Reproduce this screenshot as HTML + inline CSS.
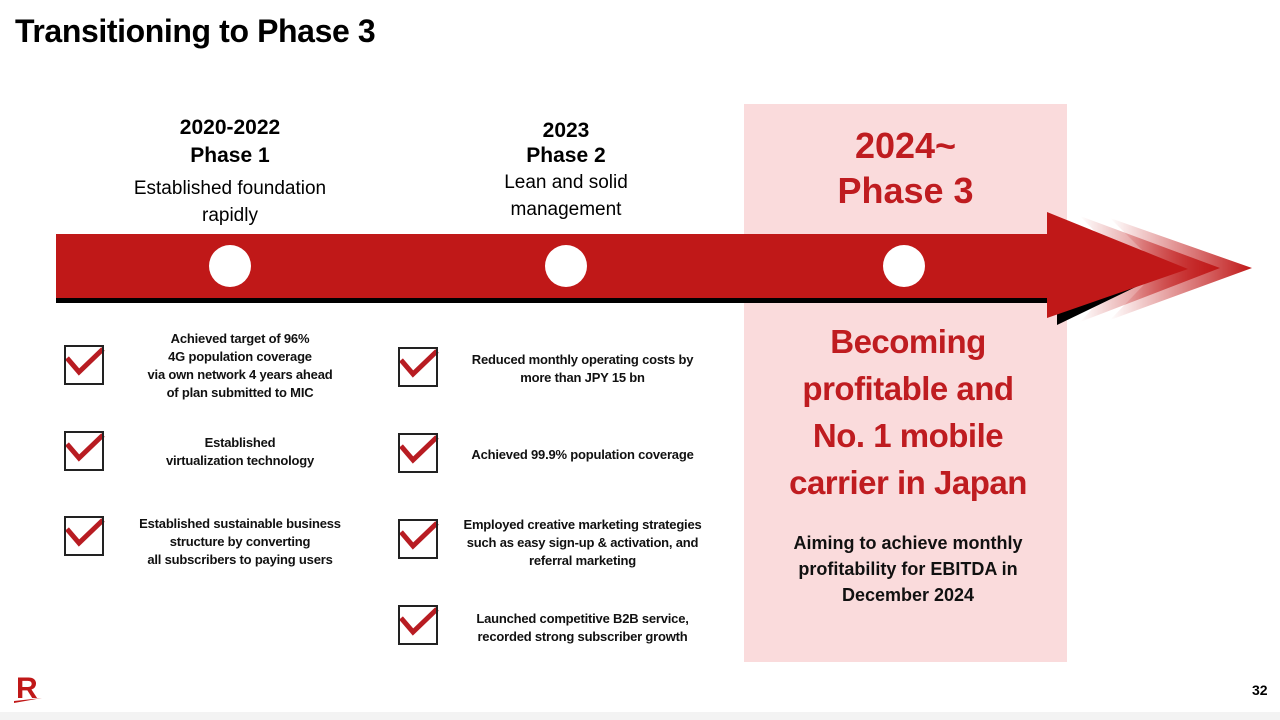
<!DOCTYPE html>
<html><head><style>
body{margin:0;width:1280px;height:720px;background:#fff;font-family:"Liberation Sans",sans-serif;overflow:hidden;position:relative}
.a{position:absolute;text-align:center}
.t{font-weight:bold;font-size:13px;line-height:18px;color:#111;letter-spacing:-0.2px}
.cb{position:absolute;width:40px;height:40px;border:2px solid #222;box-sizing:border-box}
</style></head><body>
<div class="a" style="left:15px;top:13px;font-size:32px;font-weight:bold;letter-spacing:-0.4px;text-align:left">Transitioning to Phase 3</div>
<div style="position:absolute;left:744px;top:104px;width:323px;height:558px;background:#fadbdc"></div>
<svg width="1280" height="720" style="position:absolute;left:0;top:0">
<defs>
<linearGradient id="f1" x1="0" x2="1"><stop offset="0" stop-color="#c01818" stop-opacity="0"/><stop offset="1" stop-color="#c01818"/></linearGradient>
</defs>
<polygon points="1110,218 1252,268 1110,320 1160,268" fill="url(#f1)"/>
<polygon points="1080,216 1220,268 1080,322 1130,268" fill="url(#f1)"/>
<rect x="56" y="296" width="1000" height="7" fill="#000"/>
<polygon points="1057,300 1175,268 1057,325" fill="#000"/>
<rect x="56" y="234" width="992" height="64" fill="#c01818"/>
<polygon points="1047,212 1188,269 1047,318" fill="#c01818"/>
<circle cx="230" cy="266" r="21" fill="#fff"/>
<circle cx="566" cy="266" r="21" fill="#fff"/>
<circle cx="904" cy="266" r="21" fill="#fff"/>
<g fill="none" stroke="#b81c22" stroke-width="5">
<polyline points="67,358 79,372 103,349"/><polyline points="67,444 79,458 103,435"/><polyline points="67,529 79,543 103,520"/>
<polyline points="401,360 413,374 437,351"/><polyline points="401,446 413,460 437,437"/><polyline points="401,532 413,546 437,523"/><polyline points="401,618 413,632 437,609"/>
</g>
<text x="16" y="698" font-size="30" font-weight="bold" fill="#c01818" font-family="Liberation Sans">R</text>
<path d="M14 701 L42 698 L14 703Z" fill="#c01818"/>
</svg>
<div class="cb" style="left:64px;top:345px"></div><div class="cb" style="left:64px;top:431px"></div><div class="cb" style="left:64px;top:516px"></div>
<div class="cb" style="left:398px;top:347px"></div><div class="cb" style="left:398px;top:433px"></div><div class="cb" style="left:398px;top:519px"></div><div class="cb" style="left:398px;top:605px"></div>

<div class="a" style="left:110px;width:240px;top:114px;font-size:21px;font-weight:bold;line-height:28px">2020-2022<br>Phase 1</div>
<div class="a" style="left:110px;width:240px;top:175px;font-size:19px;line-height:27px">Established foundation<br>rapidly</div>
<div class="a" style="left:446px;width:240px;top:117px;font-size:21px;font-weight:bold;line-height:28px">2023</div>
<div class="a" style="left:446px;width:240px;top:142px;font-size:21px;font-weight:bold;line-height:28px">Phase 2</div>
<div class="a" style="left:446px;width:240px;top:169px;font-size:19px;line-height:27px">Lean and solid<br>management</div>
<div class="a" style="left:744px;width:323px;top:123px;font-size:36px;font-weight:bold;line-height:45px;color:#bf1c20">2024~<br>Phase 3</div>

<div class="a t" style="left:120px;width:240px;top:330px">Achieved target of 96%<br>4G population coverage<br>via own network 4 years ahead<br>of plan submitted to MIC</div>
<div class="a t" style="left:120px;width:240px;top:434px">Established<br>virtualization technology</div>
<div class="a t" style="left:110px;width:260px;top:515px">Established sustainable business<br>structure by converting<br>all subscribers to paying users</div>
<div class="a t" style="left:450px;width:265px;top:351px">Reduced monthly operating costs by<br>more than JPY 15 bn</div>
<div class="a t" style="left:450px;width:265px;top:446px">Achieved 99.9% population coverage</div>
<div class="a t" style="left:450px;width:265px;top:516px">Employed creative marketing strategies<br>such as easy sign-up &amp; activation, and<br>referral marketing</div>
<div class="a t" style="left:450px;width:265px;top:610px">Launched competitive B2B service,<br>recorded strong subscriber growth</div>

<div class="a" style="left:744px;width:328px;top:318px;font-size:33px;font-weight:bold;line-height:47px;color:#bf1c20;letter-spacing:-0.5px">Becoming<br>profitable and<br>No. 1 mobile<br>carrier in Japan</div>
<div class="a" style="left:744px;width:328px;top:530px;font-size:18px;font-weight:bold;line-height:26px;color:#111">Aiming to achieve monthly<br>profitability for EBITDA in<br>December 2024</div>
<div class="a" style="left:1252px;top:682px;font-size:14px;font-weight:bold">32</div>
<div style="position:absolute;left:0;top:712px;width:1280px;height:8px;background:#f3f3f3"></div>
</body></html>
